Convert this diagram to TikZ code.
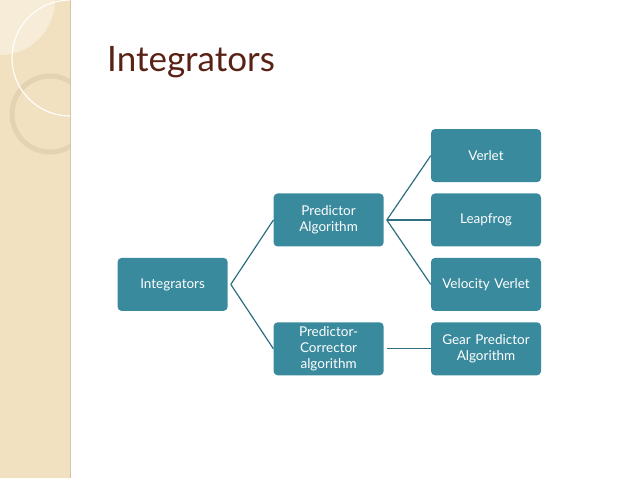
\documentclass[tikz,border=0pt]{standalone}
\usepackage{fontspec}
\setmainfont{Lato}
\usepackage{tikz}
\usetikzlibrary{positioning}
\usepackage{xcolor}
\definecolor{boxteal}{HTML}{3A8A9E}
\definecolor{linkteal}{HTML}{2D6E80}
\definecolor{titlebrown}{HTML}{5A2214}
\definecolor{stripbeige}{HTML}{F1E1C0}
\definecolor{stripedge}{HTML}{D8C6A2}
\definecolor{stripglow}{HTML}{F6ECD8}
\definecolor{ringbeige}{HTML}{E4D3B2}

\begin{document}
\begin{tikzpicture}[
      x=1pt, y=-1pt,
      every node/.style={font=\fontsize{13.5}{16}\selectfont, text=white},
      box/.style={
        rounded corners=4pt,
        fill=boxteal,
        minimum width=110pt,
        minimum height=53pt,
        inner sep=1pt,
        text width=108pt,
        align=center
      },
      link/.style={draw=linkteal, line width=1.2pt}
    ]
      \useasboundingbox (0,0) rectangle (638,478);
      % left strip
      \fill[stripbeige] (0,0) rectangle (70,478);
      \begin{scope}
        \clip (0,0) rectangle (70,478);
        \fill[stripglow] (0,0) circle (55);
        \draw[ringbeige, line width=5pt] (50,114) circle (38);
        \draw[white, line width=1.1pt] (70,58) circle (58);
      \end{scope}
      \draw[stripedge, line width=0.8pt] (70,0) -- (70,478);
      % title
      \node[anchor=base west, text=titlebrown, font=\fontsize{35}{40}\selectfont,
        inner sep=0pt] (title) at (107,72) {Integrators};
      % tree
      \node[box] (leap) at (486,220) {Leapfrog};
      \node[box, above=11pt of leap] (verlet) {Verlet};
      \node[box, below=11pt of leap] (vverlet) {Velocity Verlet};
      \node[box, below=11pt of vverlet] (gear) {Gear Predictor\\Algorithm};
      \node[box, left=47pt of leap] (pred) {Predictor\\Algorithm};
      \node[box, left=47pt of gear] (predcor) {Predictor-\\Corrector\\algorithm};
      \node[box, left=203pt of vverlet] (integ) {Integrators};
      \draw[link] ([xshift=3pt]integ.east) -- (pred.west);
      \draw[link] ([xshift=3pt]integ.east) -- (predcor.west);
      \draw[link] ([xshift=3pt]pred.east) -- (verlet.west);
      \draw[link] ([xshift=3pt]pred.east) -- (leap.west);
      \draw[link] ([xshift=3pt]pred.east) -- (vverlet.west);
      \draw[link] ([xshift=3pt]predcor.east) -- (gear.west);
    \end{tikzpicture}
\end{document}
